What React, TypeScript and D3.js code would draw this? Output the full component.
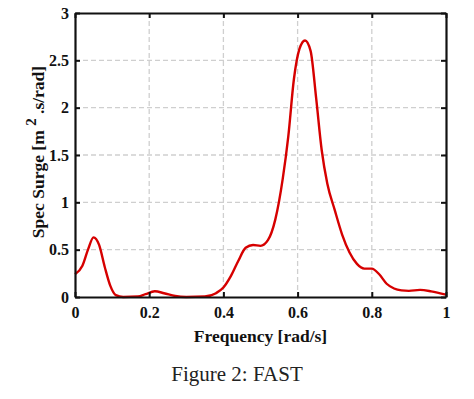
import React, { useEffect, useRef } from 'react';
import * as d3 from 'd3';

// spectrum (frequency in rad/s, spectral density)
const freq = [0, 0.02, 0.035, 0.05, 0.065, 0.08, 0.095, 0.11, 0.13, 0.17, 0.19, 0.215, 0.24, 0.27, 0.3, 0.35, 0.38, 0.4, 0.42, 0.44, 0.46, 0.48, 0.5, 0.52, 0.54, 0.56, 0.575, 0.59, 0.605, 0.62, 0.635, 0.65, 0.665, 0.68, 0.7, 0.72, 0.74, 0.76, 0.78, 0.8, 0.82, 0.84, 0.86, 0.88, 0.9, 0.93, 0.96, 1.0];
const spec = [0.24, 0.33, 0.5, 0.63, 0.55, 0.32, 0.12, 0.02, 0.0, 0.005, 0.03, 0.06, 0.04, 0.01, 0.0, 0.005, 0.04, 0.1, 0.22, 0.38, 0.52, 0.55, 0.54, 0.6, 0.82, 1.25, 1.7, 2.3, 2.62, 2.71, 2.6, 2.1, 1.55, 1.2, 0.92, 0.66, 0.47, 0.35, 0.3, 0.3, 0.24, 0.14, 0.09, 0.07, 0.065, 0.075, 0.06, 0.025];

const xTicks = [0, 0.2, 0.4, 0.6, 0.8, 1];
const yTicks = [0, 0.5, 1, 1.5, 2, 2.5, 3];

const App = () => {
  const svgRef = useRef<SVGSVGElement>(null);

  useEffect(() => {
    const svg = d3.select(svgRef.current);
    svg.selectAll("*").remove();

    const width = 474;
    const height = 399;
    const margin = { top: 13, right: 28, bottom: 102, left: 75 };
    const font = "'Liberation Serif', 'Times New Roman', serif";

    const x = d3.scaleLinear().domain([0, 1]).range([margin.left, width - margin.right]);
    const y = d3.scaleLinear().domain([0, 3]).range([height - margin.bottom, margin.top]);

    svg.attr("viewBox", [0, 0, width, height]);
    svg.append("rect").attr("width", width).attr("height", height).attr("fill", "white");

    // grid
    const grid = svg.append("g")
      .attr("stroke", "#cfcfcf")
      .attr("stroke-width", 1.3)
      .attr("stroke-dasharray", "5,3");
    grid.selectAll("line.v").data(xTicks.slice(1, -1)).join("line")
      .attr("x1", d => x(d)).attr("x2", d => x(d))
      .attr("y1", y(3)).attr("y2", y(0));
    grid.selectAll("line.h").data(yTicks.slice(1, -1)).join("line")
      .attr("x1", x(0)).attr("x2", x(1))
      .attr("y1", d => y(d)).attr("y2", d => y(d));

    const line = d3.line<number>()
      .x((d, i) => x(freq[i]))
      .y(d => y(d))
      .curve(d3.curveMonotoneX);

    svg.append("path")
      .datum(spec)
      .attr("fill", "none")
      .attr("stroke", "#d60000")
      .attr("stroke-width", 2.4)
      .attr("stroke-linejoin", "round")
      .attr("d", line);

    // axes (box with inward ticks)
    const bottom = svg.append("g")
      .attr("transform", `translate(0,${y(0)})`)
      .call(d3.axisBottom(x).tickValues(xTicks).tickFormat(d3.format("")).tickSizeInner(-5).tickSizeOuter(0).tickPadding(10));
    const left = svg.append("g")
      .attr("transform", `translate(${x(0)},0)`)
      .call(d3.axisLeft(y).tickValues(yTicks).tickFormat(d3.format("")).tickSizeInner(-5).tickSizeOuter(0).tickPadding(6));
    const top = svg.append("g")
      .attr("transform", `translate(0,${y(3)})`)
      .call(d3.axisTop(x).tickValues(xTicks).tickSizeInner(-5).tickSizeOuter(0).tickFormat(() => ""));
    const right = svg.append("g")
      .attr("transform", `translate(${x(1)},0)`)
      .call(d3.axisRight(y).tickValues(yTicks).tickSizeInner(-5).tickSizeOuter(0).tickFormat(() => ""));

    [bottom, left, top, right].forEach(g => {
      g.select(".domain").attr("stroke", "#111").attr("stroke-width", 2.2);
      g.selectAll(".tick line").attr("stroke", "#111").attr("stroke-width", 2);
      g.selectAll("text")
        .attr("font-family", font)
        .attr("font-weight", "bold")
        .attr("font-size", 16)
        .attr("fill", "#111");
    });

    svg.append("text")
      .attr("x", (x(0) + x(1)) / 2)
      .attr("y", 342)
      .attr("text-anchor", "middle")
      .attr("font-family", font)
      .attr("font-weight", "bold")
      .attr("font-size", 17.5)
      .attr("fill", "#111")
      .text("Frequency [rad/s]");

    const yl = svg.append("text")
      .attr("transform", `translate(44,${(y(0) + y(3)) / 2 - 3}) rotate(-90)`)
      .attr("text-anchor", "middle")
      .attr("font-family", font)
      .attr("font-weight", "bold")
      .attr("font-size", 17.5)
      .attr("fill", "#111");
    yl.append("tspan").text("Spec Surge [m ");
    yl.append("tspan").attr("dy", -8).attr("font-size", 15).text("2");
    yl.append("tspan").attr("dy", 8).text(" .s/rad]");

    svg.append("text")
      .attr("x", 237)
      .attr("y", 381)
      .attr("text-anchor", "middle")
      .attr("font-family", font)
      .attr("font-size", 21)
      .attr("fill", "#222")
      .text("Figure 2: FAST");
  }, []);

  return <svg ref={svgRef} width={474} height={399} style={{ position: "absolute", left: 0, top: 0 }}></svg>;
};

export default App;
